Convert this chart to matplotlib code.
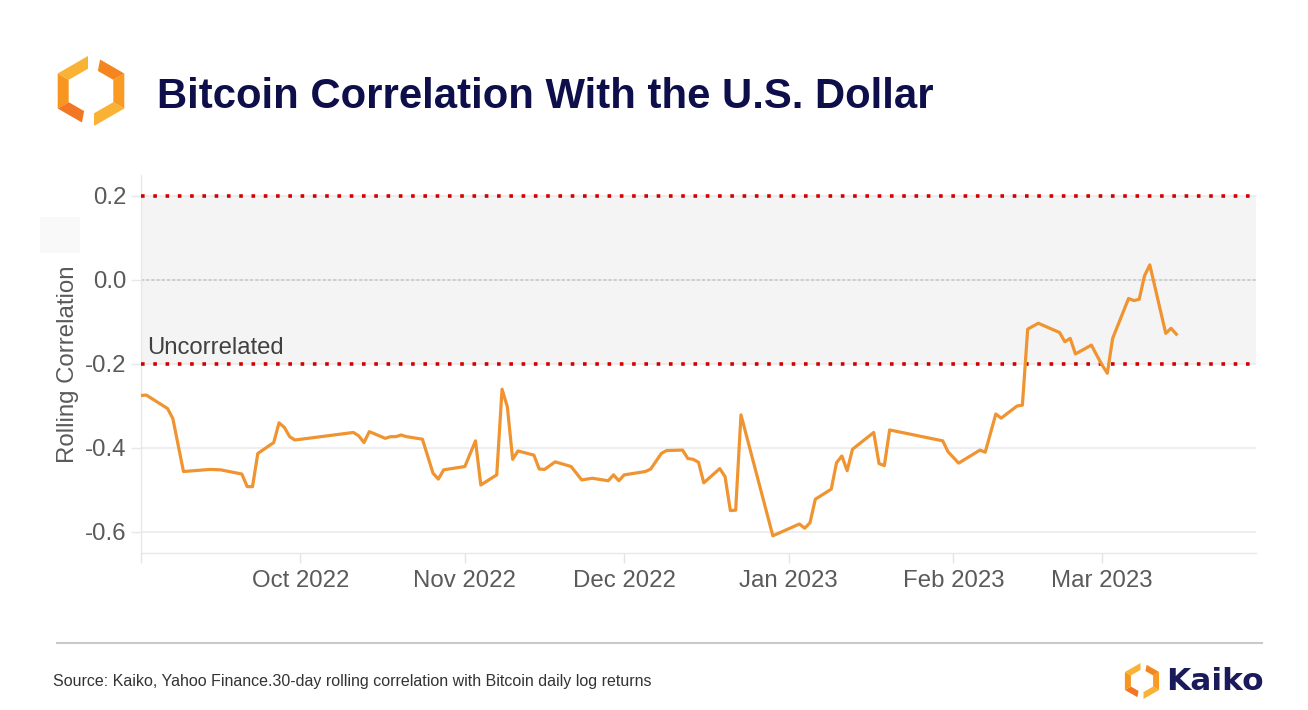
import matplotlib
matplotlib.use('Agg')
import matplotlib.pyplot as plt
from matplotlib.patches import Polygon, Rectangle
import numpy as np
import pandas as pd

plt.rcParams['font.family'] = ['Liberation Sans', 'DejaVu Sans']
plt.rcParams['axes.unicode_minus'] = False

# 30-day rolling correlation BTC vs USD
dates = ['2022-09-01', '2022-09-02', '2022-09-06', '2022-09-07', '2022-09-09', '2022-09-14',
         '2022-09-16', '2022-09-20', '2022-09-21', '2022-09-22', '2022-09-23', '2022-09-26',
         '2022-09-27', '2022-09-28', '2022-09-29', '2022-09-30', '2022-10-11', '2022-10-12',
         '2022-10-13', '2022-10-14', '2022-10-17', '2022-10-18', '2022-10-19', '2022-10-20',
         '2022-10-21', '2022-10-24', '2022-10-26', '2022-10-27', '2022-10-28', '2022-11-01',
         '2022-11-03', '2022-11-04', '2022-11-07', '2022-11-08', '2022-11-09', '2022-11-10',
         '2022-11-11', '2022-11-14', '2022-11-15', '2022-11-16', '2022-11-18', '2022-11-21',
         '2022-11-23', '2022-11-25', '2022-11-28', '2022-11-29', '2022-11-30', '2022-12-01',
         '2022-12-05', '2022-12-06', '2022-12-08', '2022-12-09', '2022-12-12', '2022-12-13',
         '2022-12-14', '2022-12-15', '2022-12-16', '2022-12-19', '2022-12-20', '2022-12-21',
         '2022-12-22', '2022-12-23', '2022-12-29', '2023-01-03', '2023-01-04', '2023-01-05',
         '2023-01-06', '2023-01-09', '2023-01-10', '2023-01-11', '2023-01-12', '2023-01-13',
         '2023-01-17', '2023-01-18', '2023-01-19', '2023-01-20', '2023-01-30', '2023-01-31',
         '2023-02-02', '2023-02-06', '2023-02-07', '2023-02-09', '2023-02-10', '2023-02-13',
         '2023-02-14', '2023-02-15', '2023-02-17', '2023-02-21', '2023-02-22', '2023-02-23',
         '2023-02-24', '2023-02-27', '2023-02-28', '2023-03-01', '2023-03-02', '2023-03-03',
         '2023-03-06', '2023-03-07', '2023-03-08', '2023-03-09', '2023-03-10', '2023-03-13',
         '2023-03-14', '2023-03-15']
corr = [-0.275, -0.274, -0.306, -0.330, -0.456, -0.451,
        -0.452, -0.462, -0.492, -0.492, -0.413, -0.387,
        -0.340, -0.351, -0.373, -0.381, -0.363, -0.371,
        -0.387, -0.361, -0.377, -0.373, -0.373, -0.369,
        -0.373, -0.379, -0.460, -0.474, -0.452, -0.444,
        -0.383, -0.488, -0.464, -0.260, -0.302, -0.427,
        -0.407, -0.417, -0.450, -0.451, -0.433, -0.444,
        -0.476, -0.472, -0.478, -0.464, -0.478, -0.464,
        -0.456, -0.450, -0.413, -0.406, -0.405, -0.425,
        -0.427, -0.434, -0.483, -0.449, -0.468, -0.549,
        -0.548, -0.321, -0.609, -0.581, -0.591, -0.578,
        -0.522, -0.498, -0.435, -0.419, -0.454, -0.403,
        -0.363, -0.437, -0.442, -0.357, -0.383, -0.409,
        -0.436, -0.405, -0.410, -0.319, -0.329, -0.300,
        -0.298, -0.117, -0.103, -0.125, -0.147, -0.139,
        -0.176, -0.155, -0.179, -0.202, -0.222, -0.139,
        -0.044, -0.049, -0.046, 0.010, 0.036, -0.127,
        -0.115, -0.129]

tick_dates = ['2022-09-01', '2022-10-01', '2022-11-01', '2022-12-01',
              '2023-01-01', '2023-02-01', '2023-03-01']
tick_labels = ['', 'Oct 2022', 'Nov 2022', 'Dec 2022', 'Jan 2023', 'Feb 2023', 'Mar 2023']
y_ticks = [0.2, 0.0, -0.2, -0.4, -0.6]
band = [-0.2, 0.2]

W, H = 1308, 710
fig = plt.figure(figsize=(W / 100, H / 100), dpi=100)

# overlay in pixel coords for logos / rule
deco = fig.add_axes([0, 0, 1, 1])
deco.set_xlim(0, W)
deco.set_ylim(H, 0)
deco.axis('off')


def draw_logo(cx, cy, R, w, shift):
    c30 = np.cos(np.pi / 6)
    ri = R - w / c30

    def vert(k, r):
        # k: 0 top, 1 upper-left, 2 lower-left, 3 bottom, 4 lower-right, 5 upper-right
        ang = np.pi / 2 + k * np.pi / 3
        return np.array([cx + r * np.cos(ang), cy - r * np.sin(ang)])

    def seg(a, b, t0, t1, col, dx):
        po0 = vert(a, R) + (vert(b, R) - vert(a, R)) * t0
        po1 = vert(a, R) + (vert(b, R) - vert(a, R)) * t1
        pi0 = vert(a, ri) + (vert(b, ri) - vert(a, ri)) * t0
        pi1 = vert(a, ri) + (vert(b, ri) - vert(a, ri)) * t1
        pts = np.array([po0, po1, pi1, pi0]) + np.array([dx, 0])
        deco.add_patch(Polygon(pts, closed=True, color=col, lw=0))

    # left piece
    seg(0, 1, 0, 1, '#fab234', -shift)
    seg(1, 2, 0, 1, '#f7951f', -shift)
    seg(2, 3, 0, 0.8, '#f37722', -shift)
    # right piece
    seg(3, 4, 0, 1, '#fab234', shift)
    seg(4, 5, 0, 1, '#f99a22', shift)
    seg(5, 0, 0, 0.8, '#f5861f', shift)


draw_logo(91, 91, 35, 11, 3)
draw_logo(1142, 681, 18, 6, 1.5)

deco.add_patch(Rectangle((40, 217), 40, 36, color='#f9f9f9', lw=0))
deco.plot([57, 1262], [643, 643], color='#c9c9c9', lw=1.5)

fig.text(157 / W, 1 - 108 / H, 'Bitcoin Correlation With the U.S. Dollar',
         fontsize=30.2, fontweight='bold', color='#0e0e4a', va='baseline', ha='left')
fig.text(53 / W, 1 - 686 / H,
         'Source: Kaiko, Yahoo Finance.30-day rolling correlation with Bitcoin daily log returns',
         fontsize=11.5, color='#333333', va='baseline', ha='left')
fig.text(1166 / W, 1 - 690 / H, 'Kaiko', family='DejaVu Sans', fontsize=22.5,
         fontweight='bold', color='#1b1b5c', va='baseline', ha='left')

# main chart
ax = fig.add_axes([141 / W, 1 - 553 / H, 1115 / W, 378 / H])
ax.set_facecolor('none')
x = pd.to_datetime(dates)

ax.axhspan(band[0], band[1], color='#f4f4f4', lw=0, zorder=0)
ax.set_yticks(y_ticks)
ax.yaxis.grid(True, color='#ebebeb', lw=1.2, zorder=1)
ax.set_axisbelow(True)
ax.axhline(0, color='#c4c4c4', lw=1.1, linestyle=(0, (2, 1.4)), zorder=2)
for b in band:
    ax.axhline(b, color='#d40000', lw=2.6, linestyle=(0, (1, 2.4)),
               dash_capstyle='butt', zorder=3)

ax.plot(x, corr, color='#ef9430', lw=2.3, zorder=4)

ax.set_xlim(pd.Timestamp('2022-09-01'), pd.Timestamp('2023-03-30'))
ax.set_ylim(-0.65, 0.25)
ax.set_xticks(pd.to_datetime(tick_dates))
ax.set_xticklabels(tick_labels)
ax.set_yticklabels(['%.1f' % v for v in y_ticks])

ax.annotate('Uncorrelated', xy=(0, band[0]), xycoords=('axes fraction', 'data'),
            xytext=(4.5, 7.5), textcoords='offset points', fontsize=17.2,
            color='#404040', va='baseline', ha='left')

for s in ['top', 'right']:
    ax.spines[s].set_visible(False)
for s in ['left', 'bottom']:
    ax.spines[s].set_color('#e8e8e8')
    ax.spines[s].set_linewidth(1.0)

ax.tick_params(axis='x', length=7, width=1, color='#e4e4e4', labelsize=17.3,
               labelcolor='#5a5a5a', pad=5)
ax.tick_params(axis='y', length=7.5, width=1, color='#e8e8e8', labelsize=17.3,
               labelcolor='#5a5a5a', pad=3)

ax.set_ylabel('Rolling Correlation', fontsize=17.3, color='#5a5a5a')
ax.yaxis.set_label_coords(-0.0555, 0.5)

fig.savefig('out.png', dpi=100)
